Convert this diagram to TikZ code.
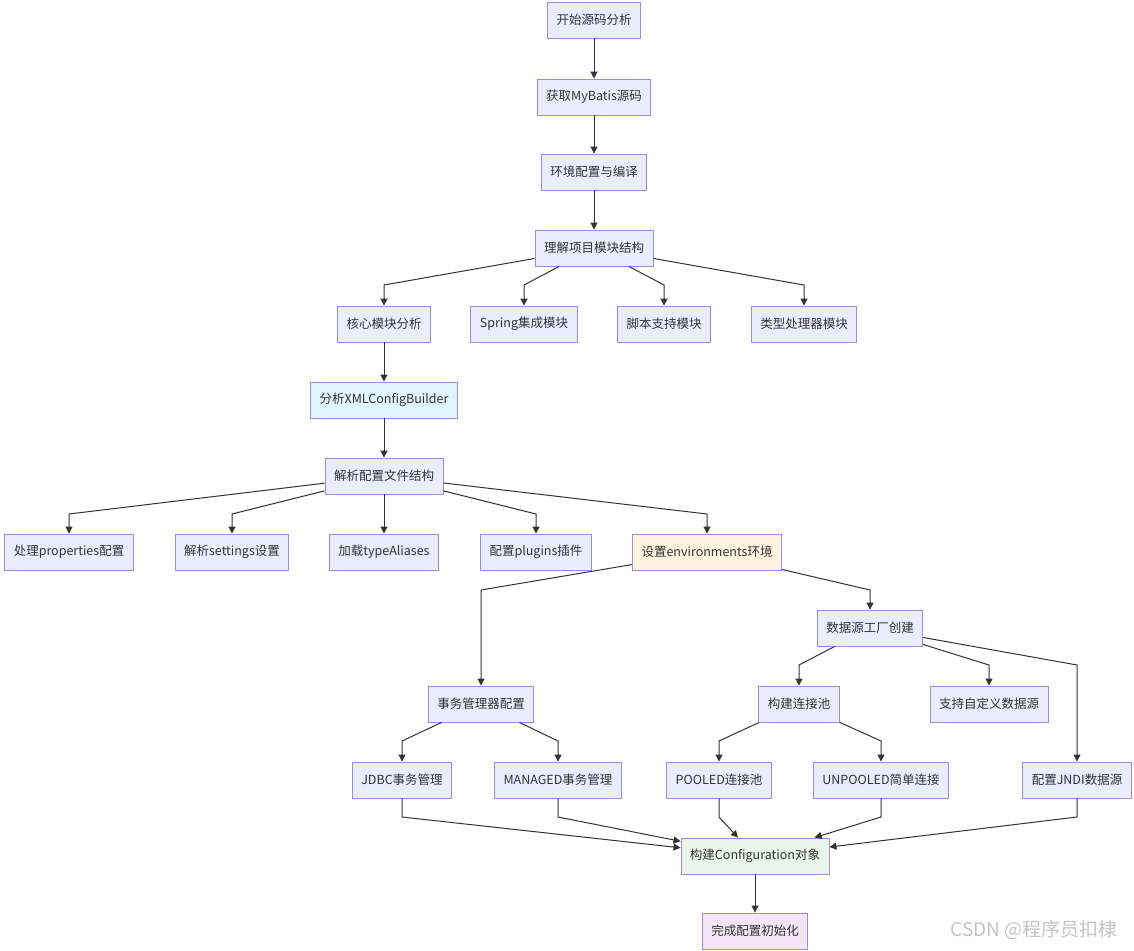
\documentclass[tikz,border=0pt]{standalone}
\usepackage{fontspec}
\setmainfont{Noto Sans CJK SC}
\usetikzlibrary{arrows.meta}
\definecolor{boxfill}{HTML}{ECECFF}
\definecolor{boxline}{HTML}{A088E0}
\definecolor{linkgray}{HTML}{333333}
\definecolor{bluefill}{HTML}{E1F5FE}
\definecolor{orangefill}{HTML}{FFF3E0}
\definecolor{greenfill}{HTML}{E8F5E8}
\definecolor{pinkfill}{HTML}{F3E5F5}
\definecolor{markgray}{HTML}{C4C4C4}
\begin{document}
\begin{tikzpicture}[x=1pt, y=-1pt,
  box/.style={rectangle, draw=boxline, fill=boxfill, line width=0.9pt, text=linkgray,
    minimum height=36pt, inner xsep=9pt, font=\fontsize{12.5pt}{15pt}\selectfont},
  link/.style={draw=linkgray, line width=1pt, -{Triangle[length=7pt, width=7pt]}}]
  \useasboundingbox[fill=white] (0,0) rectangle (1134,950);
  %Top chain of steps
  \draw (594,20) node[box] (A) {开始源码分析};
  \draw (594,97) node[box] (B) {获取MyBatis源码};
  \draw (594,172) node[box] (C) {环境配置与编译};
  \draw (594,248) node[box] (D) {理解项目模块结构};
  %Modules
  \draw (384,324) node[box] (E) {核心模块分析};
  \draw (524,324) node[box] (F) {Spring集成模块};
  \draw (664,324) node[box] (G) {脚本支持模块};
  \draw (804,324) node[box] (H) {类型处理器模块};
  \draw (384,400) node[box, fill=bluefill] (I) {分析XMLConfigBuilder};
  \draw (384,476) node[box] (J) {解析配置文件结构};
  %Config file parts
  \draw (69,552) node[box] (K) {处理properties配置};
  \draw (232,552) node[box] (L) {解析settings设置};
  \draw (384,552) node[box] (M) {加载typeAliases};
  \draw (536,552) node[box] (N) {配置plugins插件};
  \draw (707,552) node[box, fill=orangefill] (O) {设置environments环境};
  %Environments
  \draw (870,628) node[box] (P) {数据源工厂创建};
  \draw (481,704) node[box] (Q) {事务管理器配置};
  \draw (799,704) node[box] (R) {构建连接池};
  \draw (989,704) node[box] (S) {支持自定义数据源};
  \draw (402,780) node[box] (T) {JDBC事务管理};
  \draw (558,780) node[box] (U) {MANAGED事务管理};
  \draw (719,780) node[box] (V) {POOLED连接池};
  \draw (881,780) node[box] (W) {UNPOOLED简单连接};
  \draw (1077,780) node[box] (X) {配置JNDI数据源};
  %End
  \draw (755,856) node[box, fill=greenfill] (Y) {构建Configuration对象};
  \draw (755,931) node[box, fill=pinkfill] (Z) {完成配置初始化};
  \draw (1034,930) node[text=markgray, font=\fontsize{19pt}{22pt}\selectfont] (wm) {CSDN @程序员扣棣};

  %straight arrows
  \path (A) edge[link] (B);
  \path (B) edge[link] (C);
  \path (C) edge[link] (D);
  \path (E) edge[link] (I);
  \path (I) edge[link] (J);
  \path (J) edge[link] (M);
  \path (Y) edge[link] (Z);
  %bent arrows
  \draw[link] (D) -- (E |- 0,285) -- (E);
  \draw[link] (D) -- (F |- 0,285) -- (F);
  \draw[link] (D) -- (G |- 0,285) -- (G);
  \draw[link] (D) -- (H |- 0,285) -- (H);
  \draw[link] (J) -- (K |- 0,514) -- (K);
  \draw[link] (J) -- (L |- 0,514) -- (L);
  \draw[link] (J) -- (N |- 0,514) -- (N);
  \draw[link] (J) -- (O |- 0,514) -- (O);
  \draw[link] (O) -- (Q |- 0,590) -- (Q);
  \draw[link] (O) -- (P |- 0,590) -- (P);
  \draw[link] (P) -- (R |- 0,665) -- (R);
  \draw[link] (P) -- (S |- 0,665) -- (S);
  \draw[link] (P) -- (X |- 0,665) -- (X);
  \draw[link] (Q) -- (T |- 0,741) -- (T);
  \draw[link] (Q) -- (U |- 0,741) -- (U);
  \draw[link] (R) -- (V |- 0,741) -- (V);
  \draw[link] (R) -- (W |- 0,741) -- (W);
  %arrows into the configuration
  \draw[link] (T) -- (T |- 0,817) -- (Y);
  \draw[link] (U) -- (U |- 0,817) -- (Y);
  \draw[link] (V) -- (V |- 0,817) -- (Y);
  \draw[link] (W) -- (W |- 0,817) -- (Y);
  \draw[link] (X) -- (X |- 0,817) -- (Y);
\end{tikzpicture}
\end{document}
